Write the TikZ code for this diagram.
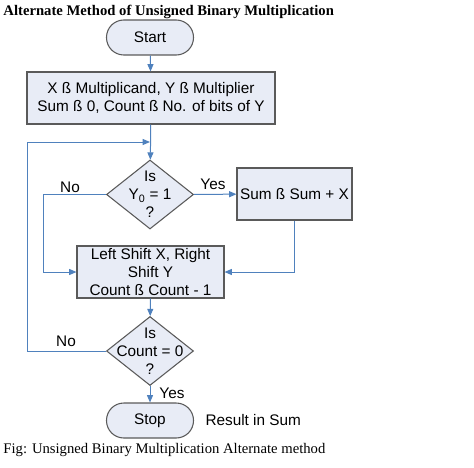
\documentclass[tikz,border=0pt]{standalone}
\usepackage{fontspec}
\setmainfont{Liberation Serif}
\setsansfont{Liberation Sans}
\usetikzlibrary{shapes.geometric,arrows.meta}

\definecolor{boxfill}{HTML}{E8ECF6}
\definecolor{boxline}{HTML}{5A5A5A}
\definecolor{flowline}{HTML}{4F81BD}

\tikzset{every picture/.style={line width=0.75pt}}
\tikzset{
    blk/.style={draw=boxline, fill=boxfill, line width=0.8pt, align=center, inner sep=0pt,
        font=\sffamily\fontsize{11.5}{13.5}\selectfont},
    term/.style={blk, rounded corners=13pt, minimum width=65.25pt, minimum height=26.25pt},
    proc/.style={blk, minimum height=39pt},
    dec/.style={blk, diamond, minimum width=65.25pt, minimum height=51.75pt},
    flow/.style={draw=flowline, line width=0.75pt, -{Triangle[length=5.5pt,width=4.5pt]}},
    lbl/.style={font=\sffamily\fontsize{11.5}{13.5}\selectfont, inner sep=0pt, align=center},
}

\begin{document}
\begin{tikzpicture}[
                x=0.75pt,
                y=0.75pt,
                yscale=-1,
                xscale=1,
                line width=0.75pt
            ]
                \useasboundingbox (0,0) rectangle (474,467);

                % heading and caption
                \node [anchor=base west, inner sep=0pt, font=\bfseries\fontsize{11}{13}\selectfont] (ttl) at (3,15.5) {Alternate Method of Unsigned Binary Multiplication};
                \node [anchor=base west, inner sep=0pt, font=\fontsize{11}{13}\selectfont] (cap) at (3,453) {Fig: Unsigned Binary Multiplication Alternate method};

                % blocks
                \node [term] (start) at (150,37.5) {Start};
                \node [proc, minimum width=186pt] (init) at (151,98) {X ß Multiplicand, Y ß Multiplier\\Sum ß 0, Count ß No. of bits of Y};
                \node [dec] (chk) at (150,194.5) {};
                \node [lbl] (chkTxt) at (chk) {Is\\Y\textsubscript{0} = 1\\?};
                \node [proc, minimum width=86.25pt] (sum) at (294.5,194) {Sum ß Sum + X};
                \node [proc, minimum width=110.25pt] (shift) at (150.5,272) {Left Shift X, Right\\Shift Y\\Count ß Count - 1};
                \node [dec] (cnt) at (150,351) {};
                \node [lbl] (cntTxt) at (cnt) {Is\\Count = 0\\?};
                \node [term] (stop) at (150,420.5) {Stop};
                \node [lbl, anchor=west] (res) at (205,420) {Result in Sum};

                \coordinate (merge) at (150,142);

                % connectors
                \draw [flow] (start) -- (init);
                \draw [flow] (init) -- (chk);
                \draw [flow] (chk.west) -- ++(-62,0) |- (shift.west);
                \draw [flow] (chk) -- (sum);
                \draw [flow] (sum.south) |- (shift.east);
                \draw [flow] (shift) -- (cnt);
                \draw [flow] (cnt.west) -- ++(-78,0) |- (merge);
                \draw [flow] (cnt) -- (stop);

                % branch labels
                \node [lbl] (noA) at (70,187) {No};
                \node [lbl] (yesA) at (213,184) {Yes};
                \node [lbl] (noB) at (66,341) {No};
                \node [lbl] (yesB) at (172,393) {Yes};
            \end{tikzpicture}
\end{document}
